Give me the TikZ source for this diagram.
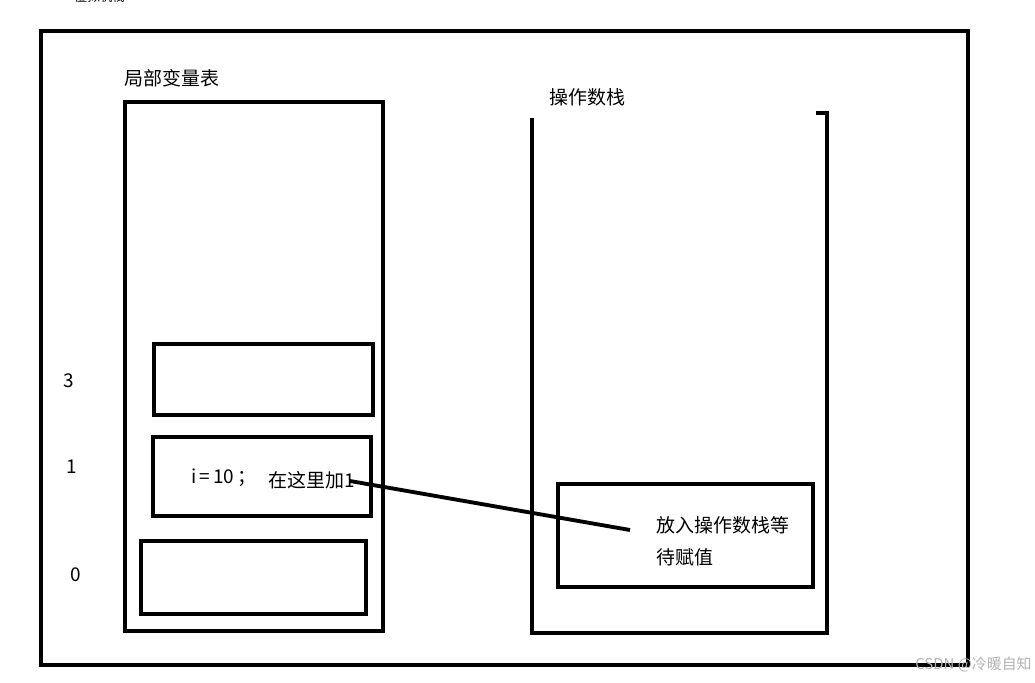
\documentclass[tikz,border=0pt]{standalone}
\usepackage{fontspec}
\setmainfont{Noto Sans CJK SC}
\begin{document}
\begin{tikzpicture}[x=0.02cm,y=-0.02cm,
  thickline/.style={line width=2.3pt},
  txt/.style={inner sep=0pt,font=\fontsize{10.8}{13}\selectfont},
  slot/.style={draw,line width=2.1pt}]
\useasboundingbox (0,0) rectangle (1035,683);
\clip (0,0) rectangle (1035,683);
\node[txt,anchor=center,font=\fontsize{7}{8}\selectfont] (vm) at (100,-3) {虚拟机栈};
\draw[thickline] (41,31) rectangle (968,665);
\node[txt,anchor=west] (lvt) at (124,78) {局部变量表};
\draw[thickline] (125,102) rectangle (383,631);
\node[txt,anchor=west] (ops) at (549,97) {操作数栈};
\draw[thickline] (532,118) -- (532,633) -- (827,633) -- (827,113) -- (816,113);
\draw[slot] (154,344) rectangle (373,415);
\draw[slot] (153,437) rectangle (371,516);
\draw[slot] (141,541) rectangle (366,614);
\node[txt] (n3) at (69,381) {3};
\node[txt] (n1) at (72,467) {1};
\node[txt] (n0) at (76,575) {0};
\draw[slot] (558,484) rectangle (813,587);
\node[txt,anchor=west] (a) at (191,478) {i\,=\,10\,；};
\node[txt,anchor=west] (b) at (268,480) {在这里加1};
\node[txt,anchor=west] (c) at (656,525) {放入操作数栈等};
\node[txt,anchor=west] (d) at (656,557) {待赋值};
\coordinate (s) at (350,481);
\coordinate (e) at (630,530);
\draw[line width=2.2pt] (s) -- (e);
\node[txt,anchor=east,text=gray!60,font=\fontsize{8.5}{10}\selectfont] (wm) at (1032,664) {CSDN @冷暖自知};
\end{tikzpicture}
\end{document}
